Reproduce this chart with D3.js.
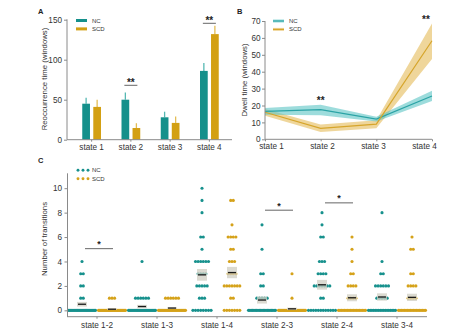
<!DOCTYPE html>
<html><head><meta charset="utf-8">
<script src="https://cdn.jsdelivr.net/npm/d3@7"></script>
<style>
body{margin:0;background:#fff;}
svg{display:block;font-family:Arial,"Liberation Sans",sans-serif;}
</style></head><body>
<svg id="fig" width="474" height="336"></svg>
<script>
// ---------- data ----------
const states = ["state 1", "state 2", "state 3", "state 4"];
const groups = ["NC", "SCD"];

// A: reoccurrence time (windows), mean and upper error
const recurNC = [45, 50, 28, 86];
const recurNCErr = [7.5, 9, 7, 10];
const recurSCD = [41, 14.6, 21, 132];
const recurSCDErr = [9, 6, 8, 10.5];
const recurTicks = [0, 50, 100, 150];
const sigAStates = ["state 2", "state 4"];
const sigALevel = [68, 145.5];

// B: dwell time (windows), mean with confidence band
const dwellNC = [16.5, 17.5, 12, 25.6];
const dwellNCLo = [14.5, 14.3, 10.5, 22.6];
const dwellNCHi = [18.5, 20.5, 13.4, 28.8];
const dwellSCD = [16, 6.5, 9, 58.3];
const dwellSCDLo = [14, 4.3, 6.6, 47.5];
const dwellSCDHi = [18, 8.8, 11.3, 68.5];
const dwellTicks = [0, 10, 20, 30, 40, 50, 60, 70];
const sigBStates = ["state 2", "state 4"];
const sigBLevel = [23.5, 71];

// C: number of transitions; subjects per count value 0..10
const transitions = ["state 1-2", "state 1-3", "state 1-4", "state 2-3", "state 2-4", "state 3-4"];
const countTicks = [0, 2, 4, 6, 8, 10];
const ncCounts = [
  [25, 2, 2, 2, 1, 0, 0, 0, 0, 0, 0],
  [25, 6, 0, 0, 1, 0, 0, 0, 0, 0, 0],
  [8, 3, 5, 4, 6, 1, 2, 0, 1, 1, 1],
  [21, 5, 2, 2, 0, 1, 0, 1, 0, 0, 0],
  [12, 2, 7, 4, 3, 0, 2, 1, 1, 0, 0],
  [17, 5, 6, 2, 1, 0, 0, 0, 1, 0, 0]
];
const scdCounts = [
  [29, 3, 0, 0, 0, 0, 0, 0, 0, 0, 0],
  [26, 6, 0, 0, 0, 0, 0, 0, 0, 0, 0],
  [7, 2, 7, 4, 3, 2, 4, 1, 0, 2, 0],
  [30, 1, 0, 1, 0, 0, 0, 0, 0, 0, 0],
  [19, 4, 4, 2, 1, 1, 1, 0, 0, 0, 0],
  [19, 4, 4, 2, 0, 2, 1, 0, 0, 0, 0]
];
const sigCPairs = ["state 1-2", "state 2-3", "state 2-4"];
const sigCLevel = [5.05, 8.2, 8.8];

// ---------- styles ----------
const tealBar = "#15908b", goldBar = "#d3a013";
const tealErr = "#56b8b3", goldErr = "#e3bd55";
const tealLine = "#2aa3a5", goldLine = "#d6a52b";
const tealBand = "#5cc4c4", goldBand = "#e6c066";
const axisCol = "#8a8a8a", textCol = "#333";

const svg = d3.select("#fig");

function styleAxis(g) {
  g.selectAll(".domain").remove();
  g.selectAll(".tick line").attr("stroke", axisCol);
  g.selectAll(".tick text").attr("fill", textCol).attr("font-size", 8.2).attr("font-family", "Arial, Liberation Sans, sans-serif");
}
function axisLine(x1, y1, x2, y2) {
  svg.append("line").attr("x1", x1).attr("y1", y1).attr("x2", x2).attr("y2", y2)
    .attr("stroke", axisCol).attr("stroke-width", 1);
}
function yTitle(x, y, t) {
  svg.append("text").attr("transform", `translate(${x},${y}) rotate(-90)`)
    .attr("text-anchor", "middle").attr("font-size", 7.8).attr("fill", textCol).text(t);
}
function panelLetter(x, y, t) {
  svg.append("text").attr("x", x).attr("y", y).attr("font-size", 7.5)
    .attr("font-weight", "bold").attr("fill", "#222").text(t);
}
function star(x, y, t, size) {
  svg.append("text").attr("x", x).attr("y", y).attr("text-anchor", "middle")
    .attr("font-size", size).attr("font-weight", "bold").attr("fill", "#222").text(t);
}

// ---------- Panel A ----------
{
  const x0 = d3.scaleBand().domain(states).range([72, 229]);
  const x1 = d3.scaleBand().domain(groups).range([0, x0.bandwidth()]).paddingInner(0.3).paddingOuter(0.93);
  const y = d3.scaleLinear().domain([0, 150]).range([139.7, 19.7]);

  const rows = states.map((s, i) => ({
    s,
    vals: [
      { g: "NC", v: recurNC[i], e: recurNCErr[i], c: tealBar, ec: tealErr },
      { g: "SCD", v: recurSCD[i], e: recurSCDErr[i], c: goldBar, ec: goldErr }
    ]
  }));
  const gs = svg.append("g").selectAll("g").data(rows).join("g")
    .attr("transform", d => `translate(${x0(d.s)},0)`);
  gs.selectAll("line.err").data(d => d.vals).join("line").attr("class", "err")
    .attr("x1", d => x1(d.g) + x1.bandwidth() / 2).attr("x2", d => x1(d.g) + x1.bandwidth() / 2)
    .attr("y1", d => y(d.v)).attr("y2", d => y(d.v + d.e))
    .attr("stroke", d => d.ec).attr("stroke-width", 1.3);
  gs.selectAll("rect").data(d => d.vals).join("rect")
    .attr("x", d => x1(d.g)).attr("width", x1.bandwidth())
    .attr("y", d => y(d.v)).attr("height", d => y(0) - y(d.v)).attr("fill", d => d.c);

  axisLine(67, y(0), 232, y(0));
  axisLine(67, y(0), 67, y(150.5));
  svg.append("g").attr("transform", `translate(67,0)`)
    .call(d3.axisLeft(y).tickValues(recurTicks).tickSize(3).tickPadding(2)).call(styleAxis);
  svg.append("g").attr("transform", `translate(0,${y(0)})`)
    .call(d3.axisBottom(x0).tickSize(2).tickPadding(2)).call(styleAxis);

  sigAStates.forEach((s, i) => {
    const xa = x0(s) + x1("NC") + x1.bandwidth() / 2, xb = x0(s) + x1("SCD") + x1.bandwidth() / 2;
    svg.append("line").attr("x1", xa - 1).attr("x2", xb + 1).attr("y1", y(sigALevel[i])).attr("y2", y(sigALevel[i]))
      .attr("stroke", "#555").attr("stroke-width", 0.9);
    star((xa + xb) / 2, y(sigALevel[i]) + 0.5, "**", 10);
  });

  // legend
  groups.forEach((g, i) => {
    svg.append("rect").attr("x", 76).attr("y", 19 + i * 8.4).attr("width", 11).attr("height", 3)
      .attr("fill", i ? goldBar : tealBar);
    svg.append("text").attr("x", 92).attr("y", 22.6 + i * 8.4).attr("font-size", 6).attr("fill", textCol).text(g);
  });
  yTitle(47, 79, "Reoccurrence time (windows)");
  panelLetter(38, 13.5, "A");
}

// ---------- Panel B ----------
{
  const x = d3.scalePoint().domain(states).range([265, 432]);
  const xl = d3.scalePoint().domain(states).range([271, 424]);
  const y = d3.scaleLinear().domain([0, 70]).range([139.3, 21]);

  const series = [
    { g: "NC", m: dwellNC, lo: dwellNCLo, hi: dwellNCHi, lc: tealLine, bc: tealBand, bo: 0.6 },
    { g: "SCD", m: dwellSCD, lo: dwellSCDLo, hi: dwellSCDHi, lc: goldLine, bc: goldBand, bo: 0.65 }
  ];
  const area = d3.area().x((d, i) => x(states[i])).y0(d => y(d[0])).y1(d => y(d[1]));
  const line = d3.line().x((d, i) => x(states[i])).y(d => y(d));
  series.slice().reverse().forEach(s => {
    svg.append("path").attr("d", area(s.lo.map((l, i) => [l, s.hi[i]])))
      .attr("fill", s.bc).attr("fill-opacity", s.bo);
  });
  series.forEach(s => {
    svg.append("path").attr("d", line(s.m)).attr("fill", "none").attr("stroke", s.lc).attr("stroke-width", 1.2);
  });

  axisLine(265, y(0), 432, y(0));
  axisLine(265, y(0), 265, y(70));
  svg.append("g").attr("transform", `translate(265,0)`)
    .call(d3.axisLeft(y).tickValues(dwellTicks).tickSize(3).tickPadding(1.5)).call(styleAxis);
  const xa = svg.append("g").attr("transform", `translate(0,${y(0)})`)
    .call(d3.axisBottom(x).tickSize(2).tickPadding(2)).call(styleAxis);
  xa.selectAll(".tick text").attr("x", d => xl(d) - x(d));

  sigBStates.forEach((s, i) => {
    const xs = i === sigBStates.length - 1 ? x(s) - 6 : x(s);
    star(xs, y(sigBLevel[i]) + 4, "**", 10);
  });

  groups.forEach((g, i) => {
    const s = series[i];
    svg.append("rect").attr("x", 273).attr("y", 19.5 + i * 8.4).attr("width", 11).attr("height", 3)
      .attr("fill", s.bc).attr("fill-opacity", s.bo);
    svg.append("line").attr("x1", 273).attr("x2", 284).attr("y1", 21 + i * 8.4).attr("y2", 21 + i * 8.4)
      .attr("stroke", s.lc).attr("stroke-width", 1.2);
    svg.append("text").attr("x", 289).attr("y", 23 + i * 8.4).attr("font-size", 6).attr("fill", textCol).text(g);
  });
  yTitle(247, 80, "Dwell time (windows)");
  panelLetter(237, 13.5, "B");
}

// ---------- Panel C ----------
{
  const x0 = d3.scaleBand().domain(transitions).range([67, 427]);
  const x1 = d3.scaleBand().domain(groups).range([0, x0.bandwidth()]);
  const y = d3.scaleLinear().domain([-0.52, 11.22]).range([316.7, 173.3]);
  const colors = { NC: "#17918d", SCD: "#d5a21a" };

  const dots = [], stats = [];
  transitions.forEach((t, ti) => {
    groups.forEach((g, gi) => {
      const counts = (gi === 0 ? ncCounts : scdCounts)[ti];
      const cx = x0(t) + x1(g) + x1.bandwidth() / 2;
      const vals = [];
      counts.forEach((n, v) => {
        if (!n) return;
        const s = n > 1 ? Math.min(2.6, 27 / (n - 1)) : 0;
        for (let i = 0; i < n; i++) {
          dots.push({ x: cx + (i - (n - 1) / 2) * s, v, g });
          vals.push(v);
        }
      });
      const m = d3.mean(vals), sem = d3.deviation(vals) / Math.sqrt(vals.length);
      stats.push({ cx, m, sem });
    });
  });

  svg.append("g").selectAll("circle").data(dots).join("circle")
    .attr("cx", d => d.x).attr("cy", d => y(d.v)).attr("r", 1.55).attr("fill", d => colors[d.g]);
  svg.append("g").selectAll("rect").data(stats).join("rect")
    .attr("x", d => d.cx - 5).attr("width", 10)
    .attr("y", d => y(d.m + d.sem)).attr("height", d => y(d.m - d.sem) - y(d.m + d.sem))
    .attr("fill", "#cfcdc2").attr("fill-opacity", 0.75);
  svg.append("g").selectAll("line").data(stats).join("line")
    .attr("x1", d => d.cx - 4).attr("x2", d => d.cx + 4)
    .attr("y1", d => y(d.m)).attr("y2", d => y(d.m))
    .attr("stroke", "#1a1a1a").attr("stroke-width", 1.3);

  axisLine(67, 316.7, 427, 316.7);
  axisLine(67.5, 316.7, 67.5, 173.3);
  svg.append("g").attr("transform", `translate(67.5,0)`)
    .call(d3.axisLeft(y).tickValues(countTicks).tickSize(3).tickPadding(2.5)).call(styleAxis);
  svg.append("g").attr("transform", `translate(0,316.7)`)
    .call(d3.axisBottom(x0).tickSize(2).tickPadding(3)).call(styleAxis);

  sigCPairs.forEach((t, i) => {
    const xa = x0(t) + x1("NC") + x1.bandwidth() / 2 + 3, xb = x0(t) + x1("SCD") + x1.bandwidth() / 2 + 1;
    svg.append("line").attr("x1", xa).attr("x2", xb).attr("y1", y(sigCLevel[i])).attr("y2", y(sigCLevel[i]))
      .attr("stroke", "#555").attr("stroke-width", 0.9);
    star((xa + xb) / 2, y(sigCLevel[i]) - 1.5, "*", 9);
  });

  groups.forEach((g, i) => {
    [0, 1, 2].forEach(k => {
      svg.append("circle").attr("cx", 78 + k * 5).attr("cy", 170.3 + i * 8.4).attr("r", 1.45).attr("fill", colors[g]);
    });
    svg.append("text").attr("x", 92).attr("y", 172.4 + i * 8.4).attr("font-size", 6).attr("fill", textCol).text(g);
  });
  yTitle(47, 239, "Number of transitions");
  panelLetter(38, 163, "C");
}
</script>
</body></html>
